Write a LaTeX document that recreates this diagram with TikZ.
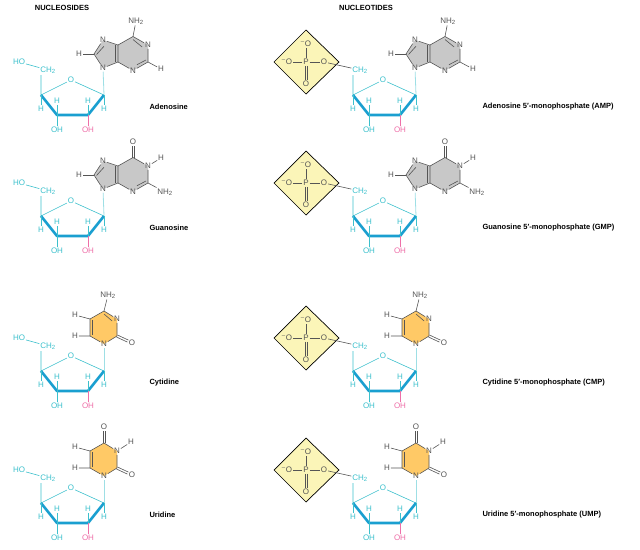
\documentclass[tikz,border=0pt]{standalone}
\usepackage{fontspec}
\setmainfont{Liberation Sans}
\definecolor{sugarc}{HTML}{3CC0CC}
\definecolor{ringc}{HTML}{1A9FD0}
\definecolor{pinkc}{HTML}{EE6FA8}
\definecolor{atomc}{HTML}{555555}
\definecolor{purc}{HTML}{C8C8C8}
\definecolor{pyrc}{HTML}{FFC966}
\definecolor{phosc}{HTML}{FBF5B8}
\tikzset{
  sg/.style={text=sugarc, inner sep=0.8pt, font=\fontsize{8}{9}\selectfont},
  atm/.style={text=atomc, inner sep=0.8pt, font=\fontsize{8}{9}\selectfont},
  bond/.style={draw=atomc, line width=0.6pt},
  sbond/.style={draw=sugarc, line width=0.6pt},
  title/.style={font=\bfseries\fontsize{7.5}{8}\selectfont},
}
% vertical double bond
\newcommand{\vdbl}[2]{
  \draw[bond, transform canvas={xshift=1.1pt}] (#1) -- (#2);
  \draw[bond, transform canvas={xshift=-1.1pt}] (#1) -- (#2);
}
% sugar, #1 = 1 for phosphate
\newcommand{\sugar}[1]{
  \coordinate (c4) at (41,95);
  \node[sg] (o4) at (71,80) {O};
  \coordinate (c1) at (104,95);
  \coordinate (c2) at (88,115);
  \coordinate (c3) at (57,115);
  \node[sg] (ch) at (48,70) {CH\textsubscript{2}};
  \coordinate (ct) at (41,75);
  \ifnum#1=0
    \node[sg] (ho) at (19,62) {HO};
    \draw[sbond] (ho) -- (ch);
  \else
    \coordinate (pl) at (-38,62);
    \coordinate (pt) at (-6,30);
    \coordinate (pr) at (27,62);
    \coordinate (pb) at (-6,94);
    \draw[fill=phosc, line width=0.7pt] (pl) -- (pt) -- (pr) -- (pb) -- cycle;
    \node[atm] (p) at (-6,62) {P};
    \node[atm] (o1) at (-6,44) {\textsuperscript{–}O};
    \node[atm] (o2) at (-25,62) {\textsuperscript{–}O};
    \node[atm] (o3) at (12,62) {O};
    \node[atm] (o5) at (-6,84) {O};
    \draw[bond] (p) -- (o1) (p) -- (o2) (p) -- (o3);
    \vdbl{p}{o5}
    \draw[bond] (o3) -- (ch);
  \fi
  \draw[sbond] (ct) -- (c4) -- (o4) -- (c1);
  \draw[ringc, line width=2.6pt, line join=round] (c4) -- (c3) -- (c2) -- (c1);
  \node[sg] (h4) at (41,109) {H};
  \node[sg] (h3) at (57,101) {H};
  \node[sg] (h2) at (88,101) {H};
  \node[sg] (h1) at (104,109) {H};
  \node[sg] (oh3) at (57,130) {OH};
  \node[sg, text=pinkc] (oh2) at (88,130) {OH};
  \draw[sbond] (c4) -- (h4) (c3) -- (h3) (c2) -- (h2) (c1) -- (h1);
  \draw[sbond] (c3) -- (oh3);
  \draw[pinkc, line width=0.6pt] (c2) -- (oh2);
}
% purine, #1 = 0 adenine, 1 guanine
\newcommand{\purine}[1]{
  \fill[purc] (118,45) -- (103,40) -- (94,54) -- (103,68) -- (118,62) -- (133,70.5)
    -- (148,62) -- (148,45) -- (133,36.5) -- cycle;
  \node[atm] (n9) at (103,68) {N};
  \node[atm] (n7) at (103,40) {N};
  \coordinate (c8) at (94,54);
  \coordinate (c5) at (118,45);
  \coordinate (c4b) at (118,62);
  \coordinate (c6) at (133,36.5);
  \node[atm] (n3) at (133,70.5) {N};
  \coordinate (c2b) at (148,62);
  \node[atm] (n1) at (148,45) {N};
  \node[atm] (h8) at (79,54) {H};
  \draw[bond] (n9) -- (c8) -- (n7) -- (c5) -- (c4b) -- (n9);
  \draw[bond] (c4b) -- (n3) -- (c2b) -- (n1) -- (c6) -- (c5);
  \draw[bond] (c8) -- (h8);
  \draw[bond] ([shift={(2.5,0.5)}]c8) -- ([shift={(1,2.5)}]n7.south);
  \draw[bond] ([shift={(-2.5,0)}]c5) -- ([shift={(-2.5,0)}]c4b);
  \ifnum#1=0
    \node[atm] (nh) at (136,21) {NH\textsubscript{2}};
    \node[atm] (h2b) at (161,69) {H};
    \draw[bond] (c6) -- (nh) (c2b) -- (h2b);
    \draw[bond] ([shift={(0,3)}]c6) -- ([shift={(-2,2)}]n1.west);
    \draw[bond] ([shift={(-2,-2)}]c2b) -- ([shift={(0,-2)}]n3.north east);
  \else
    \node[atm] (ox) at (133,21) {O};
    \node[atm] (hn) at (161,37) {H};
    \node[atm] (nh) at (165,71) {NH\textsubscript{2}};
    \draw[bond] (n1) -- (hn) (c2b) -- (nh);
    \vdbl{c6}{ox}
    \draw[bond] ([shift={(-2,-2)}]c2b) -- ([shift={(0,-2)}]n3.north east);
  \fi
}
% pyrimidine, #1 = 0 cytosine, 1 uracil
\newcommand{\pyrim}[1]{
  \fill[pyrc] (104,68) -- (90,60) -- (90,43) -- (104,35) -- (117,43) -- (117,60) -- cycle;
  \node[atm] (n9) at (104,68) {N};
  \coordinate (c6) at (90,60);
  \coordinate (c5) at (90,43);
  \coordinate (c4p) at (104,35);
  \node[atm] (n3p) at (117,43) {N};
  \coordinate (c2p) at (117,60);
  \node[atm] (o2) at (132,67) {O};
  \node[atm] (h6) at (75,60) {H};
  \node[atm] (h5) at (75,39) {H};
  \draw[bond] (n9) -- (c6) -- (c5) -- (c4p) -- (n3p) -- (c2p) -- (n9);
  \draw[bond, transform canvas={shift={(0.5,-1)}}] (c2p) -- (o2);
  \draw[bond, transform canvas={shift={(-0.5,1)}}] (c2p) -- (o2);
  \draw[bond] (c6) -- (h6) (c5) -- (h5);
  \draw[bond] ([shift={(2.5,-1)}]c6) -- ([shift={(2.5,1)}]c5);
  \ifnum#1=0
    \node[atm] (nh) at (108,19) {NH\textsubscript{2}};
    \draw[bond] (c4p) -- (nh);
    \draw[bond] ([shift={(0,3)}]c4p) -- ([shift={(-1,2)}]n3p.west);
  \else
    \node[atm] (ox) at (104,19) {O};
    \node[atm] (hn) at (131,34) {H};
    \vdbl{c4p}{ox}
    \draw[bond] (n3p) -- (hn);
  \fi
}
\begin{document}
\begin{tikzpicture}[x=1pt, y=-1pt]
  \useasboundingbox (0,0) rectangle (640,549);
  \node[title] (ns) at (62,8) {NUCLEOSIDES};
  \node[title] (nt) at (366,8) {NUCLEOTIDES};
  \foreach \dy/\kind/\sub/\name/\abbr in {0/0/0/Adenosine/AMP, 121/0/1/Guanosine/GMP,
      276/1/0/Cytidine/CMP, 408/1/1/Uridine/UMP}{
    \foreach \dx/\ph in {0/0, 312/1}{
      \begin{scope}[shift={(\dx,\dy)}]
        \ifnum\kind=0 \purine{\sub} \else \pyrim{\sub} \fi
        \sugar{\ph}
        \draw[sugarc!50!white, line width=0.8pt] (c1) -- (n9);
      \end{scope}
    }
    \node[title, anchor=west] (nuc\abbr) at (146,107+\dy) {\name};
    \node[title, anchor=west] (lab\abbr) at (479,107+\dy) {\name\ 5′-monophosphate (\abbr)};
  }
\end{tikzpicture}
\end{document}
